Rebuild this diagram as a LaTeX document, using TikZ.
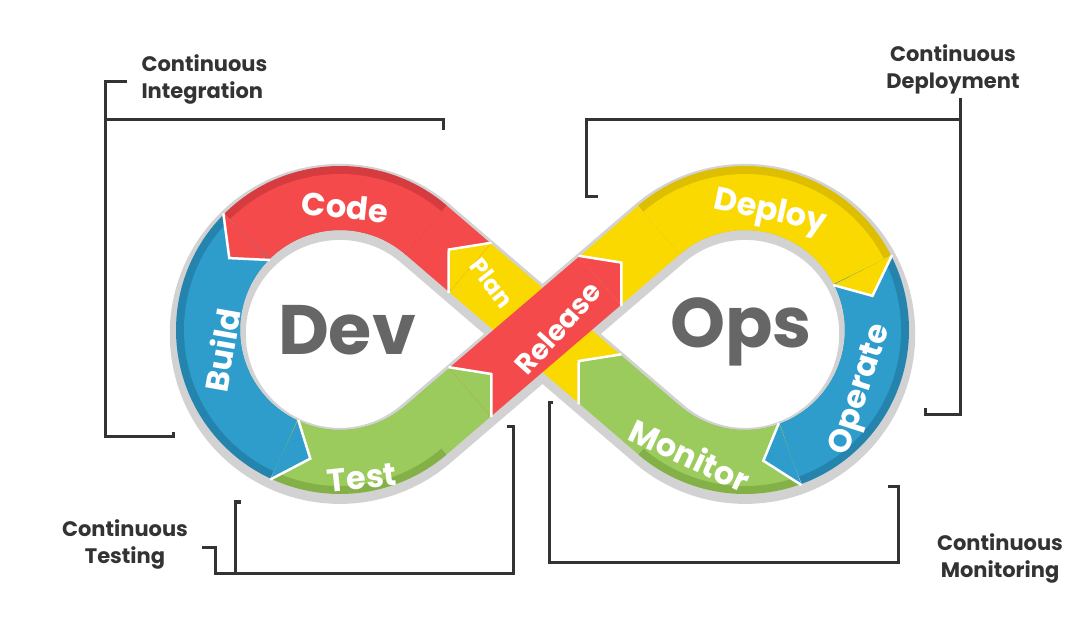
\documentclass[tikz,border=0pt]{standalone}
\usepackage{fontspec}
\setmainfont{Poppins}
\usetikzlibrary{calc}
\definecolor{cred}{HTML}{F44A4C}\definecolor{dred}{HTML}{D63B3F}
\definecolor{cblue}{HTML}{2E9DCC}\definecolor{dblue}{HTML}{2584AE}
\definecolor{cgreen}{HTML}{9BCB5C}\definecolor{dgreen}{HTML}{84B048}
\definecolor{cyel}{HTML}{FAD900}\definecolor{dyel}{HTML}{DDBE00}
\definecolor{shad}{HTML}{D2D2D2}\definecolor{txt}{HTML}{666666}
\definecolor{brk}{HTML}{333333}
\newcommand\arcseg[5]{%
 \draw[#5,line width=64] ($(#1)+(#2:132)$) arc[start angle=#2,end angle=#3,radius=132];
 \draw[#4,line width=56] ($(#1)+(#2:128)$) arc[start angle=#2,end angle=#3,radius=128];}
\newcommand\archead[4]{%
 \fill[#4] ($(#1)+(#2:165)$) -- ($(#1)+(#3:132)$) -- ($(#1)+(#2:99)$) -- cycle;
 \draw[white,line width=2.5] ($(#1)+(#2:165)$) -- ($(#1)+(#3:132)$) -- ($(#1)+(#2:99)$);}
\newcommand\linehead[4]{% point, angle, color, half width
 \fill[#3] ($(#1)+(#2+90:#4)$) -- ($(#1)+(#2:28)$) -- ($(#1)+(#2-90:#4)$) -- cycle;
 \draw[white,line width=2.5] ($(#1)+(#2+90:#4)$) -- ($(#1)+(#2:28)$) -- ($(#1)+(#2-90:#4)$);}
\tikzset{lbl/.style={text=white,font=\fontsize{32}{34}\selectfont\bfseries},
 big/.style={text=txt,font=\fontsize{70}{70}\selectfont\bfseries},
 captxt/.style={text=brk,font=\fontsize{21}{27}\selectfont\bfseries,align=center},
 br/.style={draw=brk,line width=3}}
\begin{document}
\begin{tikzpicture}[x=1pt,y=1pt]
\useasboundingbox (0,0) rectangle (1084,616);
\coordinate (L) at (340,286);
\coordinate (R) at (745,286);
\coordinate (D) at (426,386);
\coordinate (A) at (426,186);
\coordinate (B) at (659,386);
\coordinate (C) at (659,186);
\coordinate (P1) at (470,348.2);
\coordinate (M1) at (600,236.7);
\coordinate (T1) at (470,223.8);
\coordinate (R1) at (600,335.2);
% shadow
\draw[shad,line width=76,line join=round] ([yshift=-4]D) arc[start angle=49.2,end angle=310.8,radius=132] -- ([yshift=-4]B) arc[start angle=130.8,end angle=-130.8,radius=132] -- cycle;
% segments
\draw[cyel,line width=64] (M1) -- (P1);
\draw[cred,line width=64] (P1) -- (D);
\arcseg{L}{49.2}{135}{cred}{dred}
\arcseg{L}{135}{245}{cblue}{dblue}
\arcseg{L}{245}{310.8}{cgreen}{dgreen}
\draw[cgreen,line width=64] (A) -- (T1);
\draw[cyel,line width=64] (R1) -- (B);
\arcseg{R}{130.8}{27}{cyel}{dyel}
\arcseg{R}{27}{-70}{cblue}{dblue}
\arcseg{R}{-70}{-130.8}{cgreen}{dgreen}
\draw[cgreen,line width=64] (C) -- (M1);
% heads
\archead{L}{135}{147}{cred}
\archead{L}{245}{257}{cblue}
\archead{R}{27}{15}{cyel}
\archead{R}{-70}{-82}{cblue}
\linehead{P1}{139.36}{cyel}{33}
\linehead{M1}{139.36}{cgreen}{33}
% release
\draw[cred,line width=64] (T1) -- (R1);
\linehead{R1}{40.64}{cred}{33}
\linehead{T1}{40.64}{cgreen}{33}
% texts
\node[big] (dev) at (347,286) {Dev};
\node[big] (ops) at (741,284) {Ops};
\node[lbl,rotate=-6] (code) at (345,409) {Code};
\node[lbl,rotate=80] (build) at (222,266) {Build};
\node[lbl,rotate=6] (test) at (362,138) {Test};
\node[lbl,rotate=-52,font=\fontsize{24}{26}\selectfont\bfseries] (plan) at (492,333) {Plan};
\node[lbl,rotate=48,font=\fontsize{28}{30}\selectfont\bfseries] (rel) at (558,288) {Release};
\node[lbl,rotate=-12] (dep) at (770,403) {Deploy};
\node[lbl,rotate=72] (op) at (862,226) {Operate};
\node[lbl,rotate=-25] (mon) at (690,161) {Monitor};
% brackets and captions
\node[captxt,align=left,anchor=west] (ci) at (138,537) {Continuous\\Integration};
\draw[br] (127,534) -- (105,534) -- (105,179) -- (173,179) -- (173,184);
\draw[br] (105,496) -- (443,496) -- (443,486);
\node[captxt] (cd) at (953,547) {Continuous\\Deployment};
\draw[br] (960,518) -- (960,201) -- (925,201) -- (925,208);
\draw[br] (960,496) -- (586,496) -- (586,419) -- (598,419);
\node[captxt] (ct) at (125,72) {Continuous\\Testing};
\draw[br] (202,69) -- (215,69) -- (215,43) -- (513,43) -- (513,189) -- (507,189);
\draw[br] (235,43) -- (235,114) -- (241,114);
\node[captxt] (cm) at (1000,58) {Continuous\\Monitoring};
\draw[br] (553,213) -- (549,213) -- (549,54) -- (898,54) -- (898,129) -- (888,129);
\end{tikzpicture}
\end{document}
